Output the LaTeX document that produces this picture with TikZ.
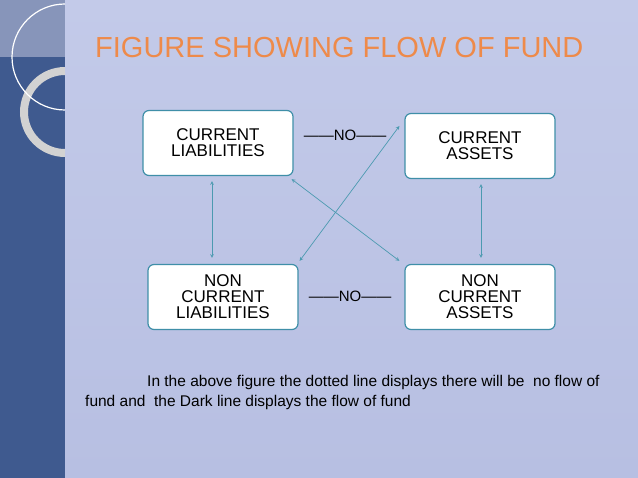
\documentclass[tikz,border=0pt]{standalone}
\usepackage{fontspec}
\setmainfont{Liberation Sans}
\definecolor{slideblue}{HTML}{3F5A8F}
\definecolor{slidelight}{HTML}{8795BA}
\definecolor{bgtop}{HTML}{C3CAE9}
\definecolor{bgbottom}{HTML}{B7BFE2}
\definecolor{titleorange}{HTML}{EE8A4A}
\definecolor{boxteal}{HTML}{3F8FA8}
\definecolor{arrowteal}{HTML}{4C9AB0}
\tikzset{
  fundbox/.style={draw=boxteal, line width=1.2pt, fill=white, rounded corners=6pt, minimum width=150pt, minimum height=65pt, align=center, font=\fontsize{17}{16}\selectfont},
  flow/.style={<->, >=stealth, draw=arrowteal, line width=0.7pt},
  nolabel/.style={font=\fontsize{15}{15}\selectfont}
}
\begin{document}
\begin{tikzpicture}[x=1pt,y=-1pt]
        % background
        \useasboundingbox (0,0) rectangle (638,478);
        \shade[top color=bgtop, bottom color=bgbottom] (0,0) rectangle (638,478);
        \fill[slideblue] (0,0) rectangle (65,478);
        \fill[slidelight] (0,0) rectangle (65,57);
        \draw[gray!35, line width=8pt] (65,112) ++(90:41) arc (90:270:41);
        \draw[white, line width=1.2pt] (65,57) ++(90:53) arc (90:270:53);

        % Title
        \node[text=titleorange, font=\fontsize{29}{29}\selectfont, anchor=west, inner sep=0pt] (title) at (95,48) {FIGURE SHOWING FLOW OF FUND};

        % Boxes
        \node[fundbox] (cl) at (218,143) {CURRENT\\LIABILITIES};
        \node[fundbox] (ca) at (480,146) {CURRENT\\ASSETS};
        \node[fundbox] (ncl) at (223,297) {NON\\CURRENT\\LIABILITIES};
        \node[fundbox] (nca) at (480,297) {NON\\CURRENT\\ASSETS};

        % No flow
        \node[nolabel] (no1) at (345,135) {——NO——};
        \node[nolabel] (no2) at (350,296) {——NO——};

        % Arrows
        \draw[flow] ([xshift=-6pt,yshift=-5pt]cl.south) -- ([xshift=-11pt,yshift=6pt]ncl.north);
        \draw[flow] ([xshift=1pt,yshift=-5pt]ca.south) -- ([xshift=1pt,yshift=6pt]nca.north);
        \draw[flow] ([xshift=-2pt,yshift=-3pt]cl.south east) -- ([xshift=-5pt,yshift=3pt]nca.north west);
        \draw[flow] ([xshift=-5pt,yshift=20pt]ca.west) -- ([xshift=1pt,yshift=3pt]ncl.north east);

        % Note
        \node[anchor=west, font=\fontsize{15.5}{15}\selectfont, inner sep=0pt] (note1) at (147,382) {In the above figure the dotted line displays there will be \ no flow of};
        \node[anchor=west, font=\fontsize{15.5}{15}\selectfont, inner sep=0pt] (note2) at (85,402) {fund and \ the Dark line displays the flow of fund};
    \end{tikzpicture}
\end{document}
